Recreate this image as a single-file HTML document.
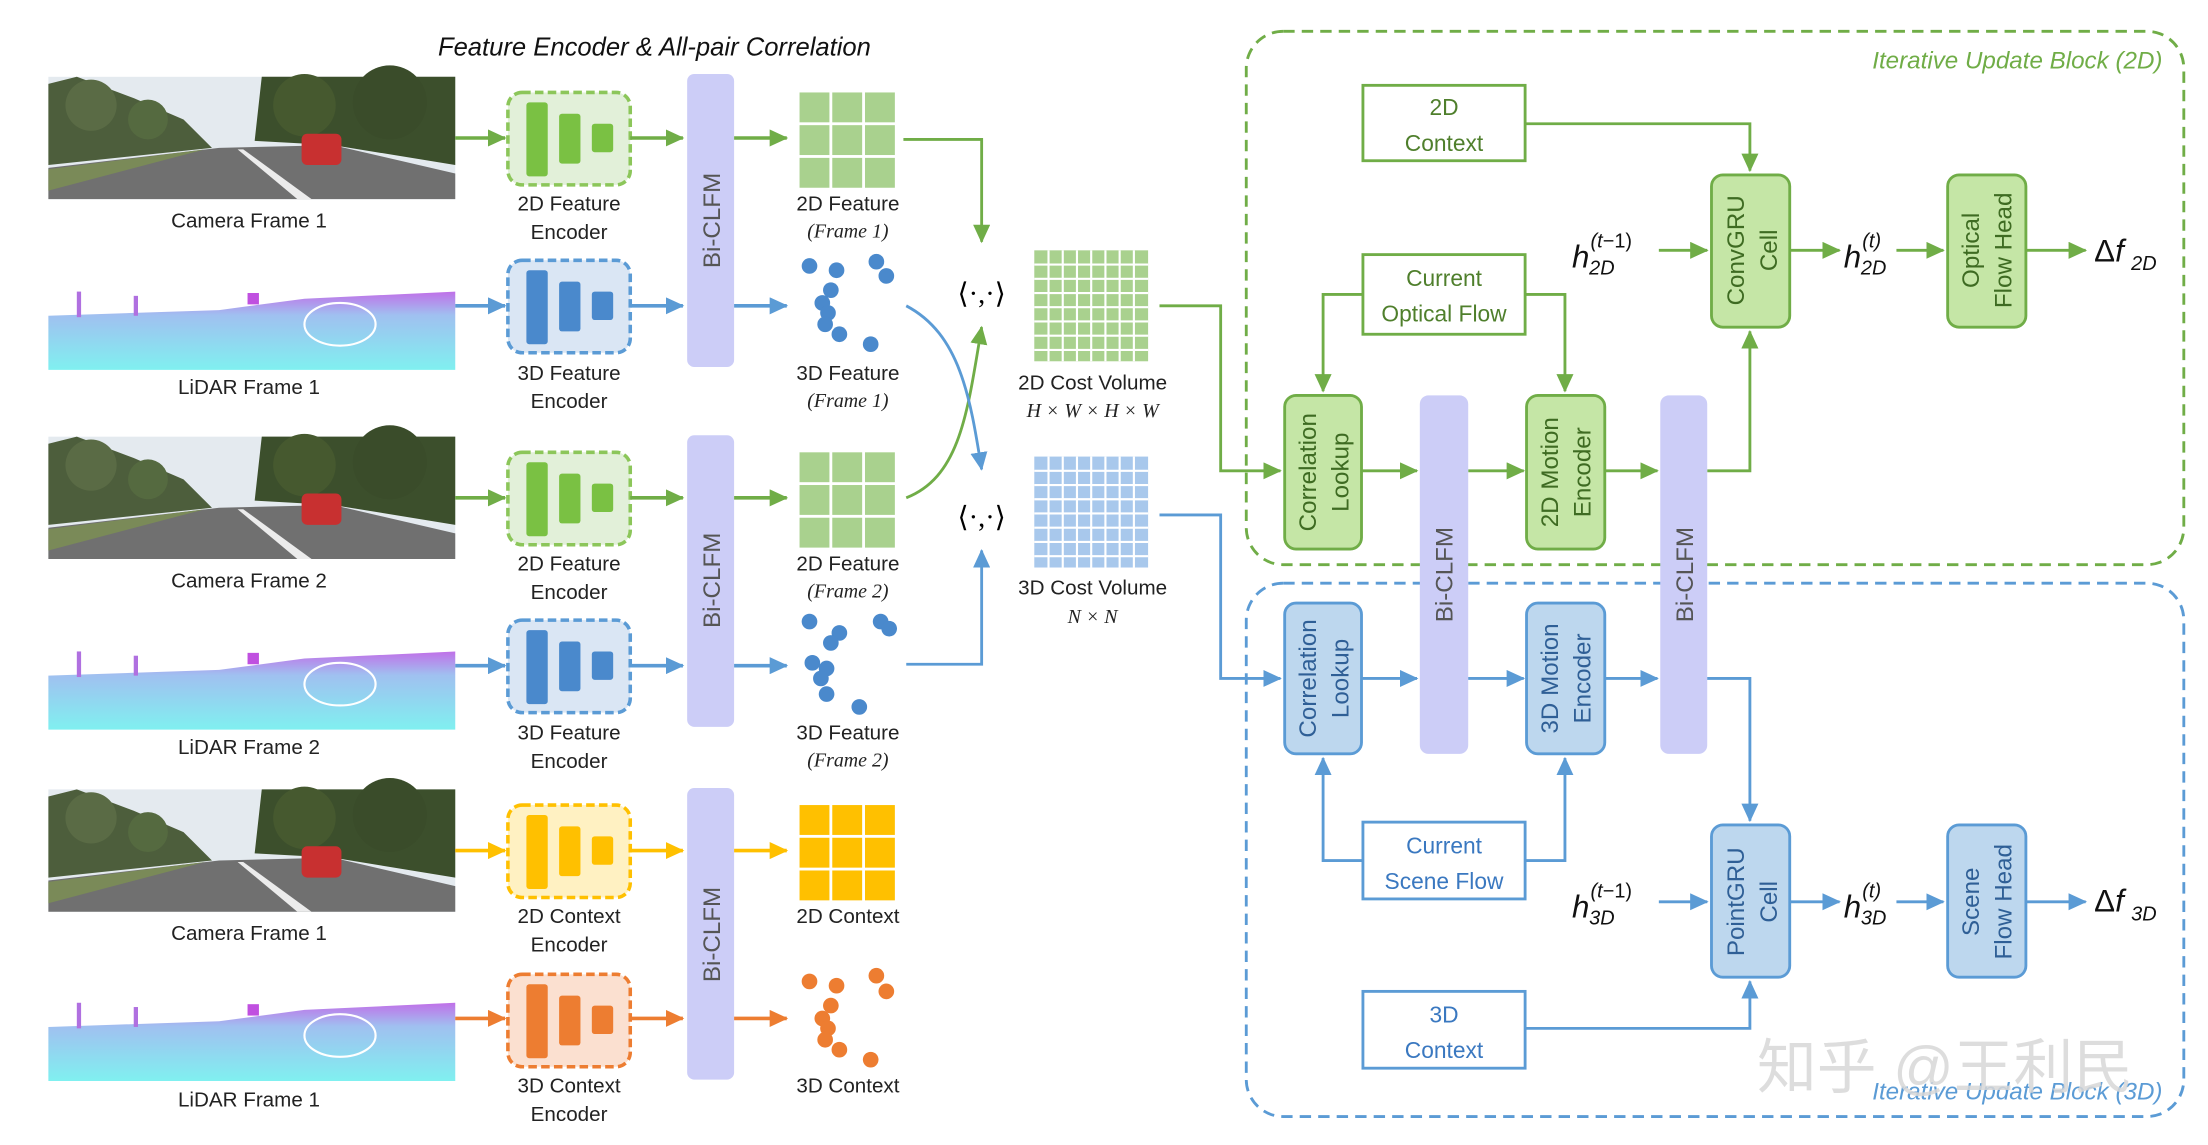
<!DOCTYPE html>
<html><head><meta charset="utf-8">
<style>
html,body{margin:0;padding:0;background:#fff;}
svg{display:block;}
text{font-family:"Liberation Sans","Noto Sans CJK SC",sans-serif;}
.l{font-size:14.5px;fill:#222;text-anchor:middle;}
.it{font-family:"Liberation Serif",serif;font-style:italic;font-size:14px;fill:#222;text-anchor:middle;}
.v{font-size:17px;text-anchor:middle;}
</style></head><body>
<svg width="2208" height="1145" viewBox="0 0 1552 805" preserveAspectRatio="none" xmlns="http://www.w3.org/2000/svg">
<defs>
<marker id="ag" markerUnits="userSpaceOnUse" markerWidth="14" markerHeight="12" refX="12" refY="6" orient="auto"><path d="M0,0 L13,6 L0,12 z" fill="#70ad47"/></marker>
<marker id="ab" markerUnits="userSpaceOnUse" markerWidth="14" markerHeight="12" refX="12" refY="6" orient="auto"><path d="M0,0 L13,6 L0,12 z" fill="#5b9bd5"/></marker>
<marker id="ay" markerUnits="userSpaceOnUse" markerWidth="14" markerHeight="12" refX="12" refY="6" orient="auto"><path d="M0,0 L13,6 L0,12 z" fill="#ffc000"/></marker>
<marker id="ao" markerUnits="userSpaceOnUse" markerWidth="14" markerHeight="12" refX="12" refY="6" orient="auto"><path d="M0,0 L13,6 L0,12 z" fill="#ed7d31"/></marker>
<linearGradient id="lg" x1="0" y1="0" x2="0" y2="1"><stop offset="0" stop-color="#c070e8"/><stop offset="0.3" stop-color="#a0c0f0"/><stop offset="1" stop-color="#80f0f0"/></linearGradient>
<g id="cam">
<rect x="0" y="0" width="286" height="86" fill="#e4eaef"/>
<polygon points="0,5 20,0 60,15 95,30 115,50 0,62" fill="#4d5e3c"/>
<circle cx="30" cy="20" r="18" fill="#5a6b45"/><circle cx="70" cy="30" r="14" fill="#556a40"/>
<polygon points="145,45 150,0 286,0 286,62 200,48" fill="#3c4f2c"/>
<circle cx="180" cy="20" r="22" fill="#46592f"/><circle cx="240" cy="18" r="26" fill="#3a4c2a"/>
<polygon points="0,64 120,50 200,48 286,68 286,86 0,86" fill="#707070"/>
<polygon points="0,65 110,51 0,80" fill="#7a8a58"/>
<polygon points="133,51 137,51 185,86 175,86" fill="#ececec"/>
<rect x="178" y="40" width="28" height="22" rx="4" fill="#c83030"/>
</g>
<g id="lid">
<rect x="0" y="0" width="286" height="60" fill="#fff"/>
<polygon points="0,22 120,18 180,10 286,5 286,60 0,60" fill="url(#lg)"/>
<rect x="20" y="5" width="3" height="18" fill="#b070e0"/><rect x="60" y="8" width="3" height="14" fill="#b070e0"/><rect x="140" y="6" width="8" height="8" fill="#c050e0"/>
<ellipse cx="205" cy="28" rx="25" ry="15" fill="none" stroke="#fff" stroke-width="1.5"/>
</g>
</defs>

<text x="460" y="39" style="font-style:italic;font-size:18px;text-anchor:middle;fill:#111">Feature Encoder &amp; All-pair Correlation</text>

<use href="#cam" x="34" y="54"/>
<use href="#lid" x="34" y="200"/>
<use href="#cam" x="34" y="307"/>
<use href="#lid" x="34" y="453"/>
<use href="#cam" x="34" y="555"/>
<use href="#lid" x="34" y="700"/>
<text class="l" x="175" y="160">Camera Frame 1</text>
<text class="l" x="175" y="277">LiDAR Frame 1</text>
<text class="l" x="175" y="413">Camera Frame 2</text>
<text class="l" x="175" y="530">LiDAR Frame 2</text>
<text class="l" x="175" y="661">Camera Frame 1</text>
<text class="l" x="175" y="778">LiDAR Frame 1</text>

<g>
<rect x="357" y="65" width="86" height="65" rx="10" fill="#e2f0d9" stroke="#8cc65a" stroke-width="2.5" stroke-dasharray="6,3"/>
<rect x="370" y="72" width="15" height="52" rx="2" fill="#7ac143"/><rect x="393" y="80" width="15" height="35" rx="2" fill="#7ac143"/><rect x="416" y="87" width="15" height="20" rx="2" fill="#7ac143"/>
<rect x="357" y="183" width="86" height="65" rx="10" fill="#dae6f4" stroke="#5b9bd5" stroke-width="2.5" stroke-dasharray="6,3"/>
<rect x="370" y="190" width="15" height="52" rx="2" fill="#4a89cc"/><rect x="393" y="198" width="15" height="35" rx="2" fill="#4a89cc"/><rect x="416" y="205" width="15" height="20" rx="2" fill="#4a89cc"/>
<rect x="357" y="318" width="86" height="65" rx="10" fill="#e2f0d9" stroke="#8cc65a" stroke-width="2.5" stroke-dasharray="6,3"/>
<rect x="370" y="325" width="15" height="52" rx="2" fill="#7ac143"/><rect x="393" y="333" width="15" height="35" rx="2" fill="#7ac143"/><rect x="416" y="340" width="15" height="20" rx="2" fill="#7ac143"/>
<rect x="357" y="436" width="86" height="65" rx="10" fill="#dae6f4" stroke="#5b9bd5" stroke-width="2.5" stroke-dasharray="6,3"/>
<rect x="370" y="443" width="15" height="52" rx="2" fill="#4a89cc"/><rect x="393" y="451" width="15" height="35" rx="2" fill="#4a89cc"/><rect x="416" y="458" width="15" height="20" rx="2" fill="#4a89cc"/>
<rect x="357" y="566" width="86" height="65" rx="10" fill="#fff1c2" stroke="#ffc000" stroke-width="2.5" stroke-dasharray="6,3"/>
<rect x="370" y="573" width="15" height="52" rx="2" fill="#ffc000"/><rect x="393" y="581" width="15" height="35" rx="2" fill="#ffc000"/><rect x="416" y="588" width="15" height="20" rx="2" fill="#ffc000"/>
<rect x="357" y="685" width="86" height="65" rx="10" fill="#fbe0d0" stroke="#ed7d31" stroke-width="2.5" stroke-dasharray="6,3"/>
<rect x="370" y="692" width="15" height="52" rx="2" fill="#ed7d31"/><rect x="393" y="700" width="15" height="35" rx="2" fill="#ed7d31"/><rect x="416" y="707" width="15" height="20" rx="2" fill="#ed7d31"/>
</g>
<text class="l" x="400" y="148">2D Feature</text><text class="l" x="400" y="168">Encoder</text>
<text class="l" x="400" y="267">3D Feature</text><text class="l" x="400" y="287">Encoder</text>
<text class="l" x="400" y="401">2D Feature</text><text class="l" x="400" y="421">Encoder</text>
<text class="l" x="400" y="520">3D Feature</text><text class="l" x="400" y="540">Encoder</text>
<text class="l" x="400" y="649">2D Context</text><text class="l" x="400" y="669">Encoder</text>
<text class="l" x="400" y="768">3D Context</text><text class="l" x="400" y="788">Encoder</text>

<rect x="483" y="52" width="33" height="206" rx="5" fill="#cccdf7"/>
<rect x="483" y="306" width="33" height="205" rx="5" fill="#cccdf7"/>
<rect x="483" y="554" width="33" height="205" rx="5" fill="#cccdf7"/>
<text class="v" transform="translate(506,155) rotate(-90)" fill="#555">Bi-CLFM</text>
<text class="v" transform="translate(506,408) rotate(-90)" fill="#555">Bi-CLFM</text>
<text class="v" transform="translate(506,657) rotate(-90)" fill="#555">Bi-CLFM</text>

<g stroke-width="2.5" fill="none">
<path d="M320,97 H355" stroke="#70ad47" marker-end="url(#ag)"/><path d="M443,97 H480" stroke="#70ad47" marker-end="url(#ag)"/><path d="M516,97 H553" stroke="#70ad47" marker-end="url(#ag)"/>
<path d="M320,215 H355" stroke="#5b9bd5" marker-end="url(#ab)"/><path d="M443,215 H480" stroke="#5b9bd5" marker-end="url(#ab)"/><path d="M516,215 H553" stroke="#5b9bd5" marker-end="url(#ab)"/>
<path d="M320,350 H355" stroke="#70ad47" marker-end="url(#ag)"/><path d="M443,350 H480" stroke="#70ad47" marker-end="url(#ag)"/><path d="M516,350 H553" stroke="#70ad47" marker-end="url(#ag)"/>
<path d="M320,468 H355" stroke="#5b9bd5" marker-end="url(#ab)"/><path d="M443,468 H480" stroke="#5b9bd5" marker-end="url(#ab)"/><path d="M516,468 H553" stroke="#5b9bd5" marker-end="url(#ab)"/>
<path d="M320,598 H355" stroke="#ffc000" marker-end="url(#ay)"/><path d="M443,598 H480" stroke="#ffc000" marker-end="url(#ay)"/><path d="M516,598 H553" stroke="#ffc000" marker-end="url(#ay)"/>
<path d="M320,716 H355" stroke="#ed7d31" marker-end="url(#ao)"/><path d="M443,716 H480" stroke="#ed7d31" marker-end="url(#ao)"/><path d="M516,716 H553" stroke="#ed7d31" marker-end="url(#ao)"/>
</g>

<g fill="#a9d18e">
<rect x="562" y="65" width="21" height="21"/><rect x="585" y="65" width="21" height="21"/><rect x="608" y="65" width="21" height="21"/>
<rect x="562" y="88" width="21" height="21"/><rect x="585" y="88" width="21" height="21"/><rect x="608" y="88" width="21" height="21"/>
<rect x="562" y="111" width="21" height="21"/><rect x="585" y="111" width="21" height="21"/><rect x="608" y="111" width="21" height="21"/>
<rect x="562" y="318" width="21" height="21"/><rect x="585" y="318" width="21" height="21"/><rect x="608" y="318" width="21" height="21"/>
<rect x="562" y="341" width="21" height="21"/><rect x="585" y="341" width="21" height="21"/><rect x="608" y="341" width="21" height="21"/>
<rect x="562" y="364" width="21" height="21"/><rect x="585" y="364" width="21" height="21"/><rect x="608" y="364" width="21" height="21"/>
</g>
<g fill="#ffc000">
<rect x="562" y="566" width="21" height="21"/><rect x="585" y="566" width="21" height="21"/><rect x="608" y="566" width="21" height="21"/>
<rect x="562" y="589" width="21" height="21"/><rect x="585" y="589" width="21" height="21"/><rect x="608" y="589" width="21" height="21"/>
<rect x="562" y="612" width="21" height="21"/><rect x="585" y="612" width="21" height="21"/><rect x="608" y="612" width="21" height="21"/>
</g>
<g fill="#4a89cc">
<circle cx="569" cy="187" r="5.5"/><circle cx="588" cy="190" r="5.5"/><circle cx="616" cy="184" r="5.5"/><circle cx="623" cy="194" r="5.5"/><circle cx="584" cy="204" r="5.5"/><circle cx="578" cy="213" r="5.5"/><circle cx="582" cy="220" r="5.5"/><circle cx="580" cy="228" r="5.5"/><circle cx="590" cy="235" r="5.5"/><circle cx="612" cy="242" r="5.5"/>
<circle cx="569" cy="437" r="5.5"/><circle cx="619" cy="437" r="5.5"/><circle cx="625" cy="442" r="5.5"/><circle cx="590" cy="445" r="5.5"/><circle cx="584" cy="452" r="5.5"/><circle cx="571" cy="466" r="5.5"/><circle cx="581" cy="470" r="5.5"/><circle cx="577" cy="477" r="5.5"/><circle cx="581" cy="488" r="5.5"/><circle cx="604" cy="497" r="5.5"/>
</g>
<g fill="#ed7d31">
<circle cx="569" cy="690" r="5.5"/><circle cx="588" cy="693" r="5.5"/><circle cx="616" cy="686" r="5.5"/><circle cx="623" cy="697" r="5.5"/><circle cx="584" cy="707" r="5.5"/><circle cx="578" cy="716" r="5.5"/><circle cx="582" cy="723" r="5.5"/><circle cx="580" cy="731" r="5.5"/><circle cx="590" cy="738" r="5.5"/><circle cx="612" cy="745" r="5.5"/>
</g>
<text class="l" x="596" y="148">2D Feature</text><text class="it" x="596" y="167">(Frame 1)</text>
<text class="l" x="596" y="267">3D Feature</text><text class="it" x="596" y="286">(Frame 1)</text>
<text class="l" x="596" y="401">2D Feature</text><text class="it" x="596" y="420">(Frame 2)</text>
<text class="l" x="596" y="520">3D Feature</text><text class="it" x="596" y="539">(Frame 2)</text>
<text class="l" x="596" y="649">2D Context</text>
<text class="l" x="596" y="768">3D Context</text>

<g stroke-width="2" fill="none">
<path d="M635,98 H690 V170" stroke="#70ad47" marker-end="url(#ag)"/>
<path d="M637,350 C675,335 680,290 690,230" stroke="#70ad47" marker-end="url(#ag)"/>
<path d="M637,215 C675,235 682,280 690,330" stroke="#5b9bd5" marker-end="url(#ab)"/>
<path d="M637,467 H690 V387" stroke="#5b9bd5" marker-end="url(#ab)"/>
</g>
<text x="690" y="213" style="font-family:'Liberation Serif',serif;font-size:20px;text-anchor:middle">⟨·,·⟩</text>
<text x="690" y="370" style="font-family:'Liberation Serif',serif;font-size:20px;text-anchor:middle">⟨·,·⟩</text>

<rect x="727" y="176" width="80" height="78" fill="#a9d18e"/>
<g stroke="#fff" stroke-width="1.5">
<path d="M737,176V254M747,176V254M757,176V254M767,176V254M777,176V254M787,176V254M797,176V254"/>
<path d="M727,186H807M727,196H807M727,206H807M727,216H807M727,226H807M727,236H807M727,246H807"/>
</g>
<rect x="727" y="321" width="80" height="78" fill="#a8c8ec"/>
<g stroke="#fff" stroke-width="1.5">
<path d="M737,321V399M747,321V399M757,321V399M767,321V399M777,321V399M787,321V399M797,321V399"/>
<path d="M727,331H807M727,341H807M727,351H807M727,361H807M727,371H807M727,381H807M727,391H807"/>
</g>
<text class="l" x="768" y="274">2D Cost Volume</text>
<text class="it" x="768" y="293">H × W × H × W</text>
<text class="l" x="768" y="418">3D Cost Volume</text>
<text class="it" x="768" y="438">N × N</text>

<path d="M815,215 H858 V331 H900" stroke="#70ad47" stroke-width="2" fill="none" marker-end="url(#ag)"/>
<path d="M815,362 H858 V477 H900" stroke="#5b9bd5" stroke-width="2" fill="none" marker-end="url(#ab)"/>

<rect x="876" y="22" width="659" height="375" rx="26" fill="none" stroke="#70ad47" stroke-width="2" stroke-dasharray="8,5"/>
<rect x="876" y="410" width="659" height="375" rx="26" fill="none" stroke="#5b9bd5" stroke-width="2" stroke-dasharray="8,5"/>
<text x="1520" y="48" style="font-style:italic;font-size:17px;fill:#70ad47;text-anchor:end">Iterative Update Block (2D)</text>
<text x="1520" y="773" style="font-style:italic;font-size:17px;fill:#5b9bd5;text-anchor:end">Iterative Update Block (3D)</text>

<rect x="958" y="60" width="114" height="53" fill="#fff" stroke="#70ad47" stroke-width="2"/>
<text class="l" x="1015" y="81" style="fill:#4f7f2c;font-size:16px">2D</text><text class="l" x="1015" y="106" style="fill:#4f7f2c;font-size:16px">Context</text>
<rect x="958" y="179" width="114" height="56" fill="#fff" stroke="#70ad47" stroke-width="2"/>
<text class="l" x="1015" y="201" style="fill:#4f7f2c;font-size:16px">Current</text><text class="l" x="1015" y="226" style="fill:#4f7f2c;font-size:16px">Optical Flow</text>
<g stroke="#70ad47" stroke-width="2" fill="none">
<path d="M1072,87 H1230 V120" marker-end="url(#ag)"/>
<path d="M958,207 H930 V275" marker-end="url(#ag)"/>
<path d="M1072,207 H1100 V275" marker-end="url(#ag)"/>
<path d="M957,331 H996" marker-end="url(#ag)"/>
<path d="M1032,331 H1071" marker-end="url(#ag)"/>
<path d="M1128,331 H1165" marker-end="url(#ag)"/>
<path d="M1200,331 H1230 V233" marker-end="url(#ag)"/>
<path d="M1166,176 H1200" marker-end="url(#ag)"/>
<path d="M1258,176 H1293" marker-end="url(#ag)"/>
<path d="M1333,176 H1366" marker-end="url(#ag)"/>
<path d="M1424,176 H1466" marker-end="url(#ag)"/>
</g>
<rect x="903" y="278" width="54" height="108" rx="8" fill="#c5e6a6" stroke="#70ad47" stroke-width="2"/>
<rect x="1073" y="278" width="55" height="108" rx="8" fill="#c5e6a6" stroke="#70ad47" stroke-width="2"/>
<rect x="1203" y="123" width="55" height="107" rx="8" fill="#c5e6a6" stroke="#70ad47" stroke-width="2"/>
<rect x="1369" y="123" width="55" height="107" rx="8" fill="#c5e6a6" stroke="#70ad47" stroke-width="2"/>
<g fill="#3e6b22" style="font-size:17px;text-anchor:middle">
<text transform="translate(925,332) rotate(-90)">Correlation</text><text transform="translate(948,332) rotate(-90)">Lookup</text>
<text transform="translate(1095,332) rotate(-90)">2D Motion</text><text transform="translate(1118,332) rotate(-90)">Encoder</text>
<text transform="translate(1226,176) rotate(-90)">ConvGRU</text><text transform="translate(1249,176) rotate(-90)">Cell</text>
<text transform="translate(1391,176) rotate(-90)">Optical</text><text transform="translate(1414,176) rotate(-90)">Flow Head</text>
</g>

<rect x="998" y="278" width="34" height="252" rx="6" fill="#cccdf7"/>
<rect x="1167" y="278" width="33" height="252" rx="6" fill="#cccdf7"/>
<text class="v" transform="translate(1021,404) rotate(-90)" fill="#555">Bi-CLFM</text>
<text class="v" transform="translate(1190,404) rotate(-90)" fill="#555">Bi-CLFM</text>

<rect x="958" y="578" width="114" height="54" fill="#fff" stroke="#5b9bd5" stroke-width="2"/>
<text class="l" x="1015" y="600" style="fill:#3a78c0;font-size:16px">Current</text><text class="l" x="1015" y="625" style="fill:#3a78c0;font-size:16px">Scene Flow</text>
<rect x="958" y="697" width="114" height="54" fill="#fff" stroke="#5b9bd5" stroke-width="2"/>
<text class="l" x="1015" y="719" style="fill:#3a78c0;font-size:16px">3D</text><text class="l" x="1015" y="744" style="fill:#3a78c0;font-size:16px">Context</text>
<g stroke="#5b9bd5" stroke-width="2" fill="none">
<path d="M958,605 H930 V533" marker-end="url(#ab)"/>
<path d="M1072,605 H1100 V533" marker-end="url(#ab)"/>
<path d="M957,477 H996" marker-end="url(#ab)"/>
<path d="M1032,477 H1071" marker-end="url(#ab)"/>
<path d="M1128,477 H1165" marker-end="url(#ab)"/>
<path d="M1200,477 H1230 V577" marker-end="url(#ab)"/>
<path d="M1072,723 H1230 V690" marker-end="url(#ab)"/>
<path d="M1166,634 H1200" marker-end="url(#ab)"/>
<path d="M1258,634 H1293" marker-end="url(#ab)"/>
<path d="M1333,634 H1366" marker-end="url(#ab)"/>
<path d="M1424,634 H1466" marker-end="url(#ab)"/>
</g>
<rect x="903" y="424" width="54" height="106" rx="8" fill="#bdd7ee" stroke="#5b9bd5" stroke-width="2"/>
<rect x="1073" y="424" width="55" height="106" rx="8" fill="#bdd7ee" stroke="#5b9bd5" stroke-width="2"/>
<rect x="1203" y="580" width="55" height="107" rx="8" fill="#bdd7ee" stroke="#5b9bd5" stroke-width="2"/>
<rect x="1369" y="580" width="55" height="107" rx="8" fill="#bdd7ee" stroke="#5b9bd5" stroke-width="2"/>
<g fill="#2f5f96" style="font-size:17px;text-anchor:middle">
<text transform="translate(925,477) rotate(-90)">Correlation</text><text transform="translate(948,477) rotate(-90)">Lookup</text>
<text transform="translate(1095,477) rotate(-90)">3D Motion</text><text transform="translate(1118,477) rotate(-90)">Encoder</text>
<text transform="translate(1226,634) rotate(-90)">PointGRU</text><text transform="translate(1249,634) rotate(-90)">Cell</text>
<text transform="translate(1391,634) rotate(-90)">Scene</text><text transform="translate(1414,634) rotate(-90)">Flow Head</text>
</g>

<g style="font-family:'Liberation Serif',serif;fill:#111">
<text x="1105" y="188" style="font-style:italic;font-size:22px">h</text><text x="1118" y="174" style="font-size:14px"><tspan font-style="italic">(t</tspan>−1)</text><text x="1117" y="193" style="font-style:italic;font-size:14px">2D</text>
<text x="1296" y="188" style="font-style:italic;font-size:22px">h</text><text x="1309" y="174" style="font-style:italic;font-size:14px">(t)</text><text x="1308" y="193" style="font-style:italic;font-size:14px">2D</text>
<text x="1472" y="184" style="font-size:22px">Δ<tspan font-style="italic">f</tspan></text><text x="1498" y="190" style="font-style:italic;font-size:14px">2D</text>
<text x="1105" y="645" style="font-style:italic;font-size:22px">h</text><text x="1118" y="631" style="font-size:14px"><tspan font-style="italic">(t</tspan>−1)</text><text x="1117" y="650" style="font-style:italic;font-size:14px">3D</text>
<text x="1296" y="645" style="font-style:italic;font-size:22px">h</text><text x="1309" y="631" style="font-style:italic;font-size:14px">(t)</text><text x="1308" y="650" style="font-style:italic;font-size:14px">3D</text>
<text x="1472" y="641" style="font-size:22px">Δ<tspan font-style="italic">f</tspan></text><text x="1498" y="647" style="font-style:italic;font-size:14px">3D</text>
</g>

<text x="1235" y="765" style="font-family:'Liberation Sans','Noto Sans CJK SC',sans-serif;font-size:42px;fill:#d8d8d8;opacity:0.85">知乎 @王利民</text>
</svg>
</body></html>
